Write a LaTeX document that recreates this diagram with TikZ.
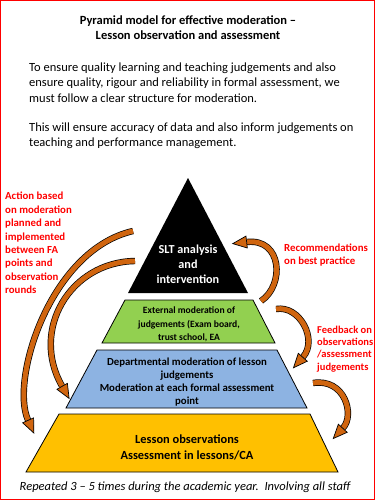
\documentclass[tikz,border=0pt]{standalone}
\usepackage{fontspec}
\setmainfont{Carlito}
\usetikzlibrary{shapes.geometric}
\definecolor{arroworange}{HTML}{D0650F}
\definecolor{tiergreen}{HTML}{92D050}
\definecolor{tierblue}{HTML}{8DB3E2}
\definecolor{tieryellow}{HTML}{FFC000}
\definecolor{notered}{HTML}{FF0000}

\tikzset{
    tier/.style={draw=black, line width=0.8pt, line join=miter},
    tierlabel/.style={align=center, inner sep=0pt},
    note/.style={align=left, anchor=west, inner sep=0pt, text=notered,
        font=\fontsize{10.8}{13.4}\selectfont\bfseries},
    bentarrow/.style={line width=0.7pt, double=arroworange, double distance=5pt},
    arrowhead/.style={pos=1, sloped, allow upside down, isosceles triangle,
        isosceles triangle stretches, minimum width=12pt, minimum height=14pt,
        inner sep=0pt, anchor=lower side, draw=black, fill=arroworange,
        line width=0.7pt, line join=miter},
}

\begin{document}
\begin{tikzpicture}[x=1pt, y=-1pt]
        \def\midx{187}

        % frame
        \useasboundingbox (0, 0) rectangle (375, 500);
        \draw [notered, line width=1pt] (0.5, 0.5) rectangle (374.5, 499.5);

        % heading and intro
        \node [tierlabel, font=\fontsize{12.5}{15}\selectfont\bfseries] (title) at (188, 27.5)
            {Pyramid model for effective moderation --\\Lesson observation and assessment};
        \node [tierlabel, align=left, anchor=west, font=\fontsize{12.5}{15.5}\selectfont] (intro) at (29, 82.5)
            {To ensure quality learning and teaching judgements and also\\
             ensure quality, rigour and reliability in formal assessment, we\\
             must follow a clear structure for moderation.};
        \node [tierlabel, align=left, anchor=west, font=\fontsize{12.5}{15.5}\selectfont] (detail) at (29, 135.5)
            {This will ensure accuracy of data and also inform judgements on\\
             teaching and performance management.};

        % pyramid tiers
        \fill [black] (\midx+1, 178) -- (\midx+61, 293) -- (\midx-59, 293) -- cycle;
        \draw [tier, fill=tiergreen] (\midx-62, 300) -- (\midx+66, 300) -- (\midx+88, 343) -- (\midx-85, 343) -- cycle;
        \draw [tier, fill=tierblue] (\midx-90, 350) -- (\midx+90, 350) -- (\midx+120, 408) -- (\midx-121, 408) -- cycle;
        \draw [tier, fill=tieryellow] (\midx-128, 414) -- (\midx+123, 414) -- (\midx+151, 472) -- (\midx-161, 472) -- cycle;

        \node [tierlabel, text=white, font=\fontsize{12.2}{15}\selectfont\bfseries] (slt) at (188, 264)
            {SLT analysis\\and\\intervention};
        \node [tierlabel, font=\fontsize{9.6}{13.5}\selectfont\bfseries] (external) at (189, 324.5)
            {External moderation of\\judgements (Exam board,\\trust school, EA};
        \node [tierlabel, font=\fontsize{10.8}{13.3}\selectfont\bfseries] (departmental) at (187, 382)
            {Departmental moderation of lesson\\judgements\\Moderation at each formal assessment\\point};
        \node [tierlabel, font=\fontsize{12.4}{16}\selectfont\bfseries] (lessons) at (187, 447)
            {Lesson observations\\Assessment in lessons/CA};

        % side notes
        \node [note] (action) at (5, 243)
            {Action based\\on moderation\\planned and\\implemented\\between FA\\points and\\observation\\rounds};
        \node [note] (recommend) at (284, 255)
            {Recommendations\\on best practice};
        \node [note, font=\fontsize{10.5}{12.3}\selectfont\bfseries] (feedback) at (317, 349)
            {Feedback on\\observations\\/assessment\\judgements};

        \node [tierlabel, font=\fontsize{12.5}{14}\selectfont\itshape] (repeated) at (185, 487)
            {Repeated 3 -- 5 times during the academic year.\ \ Involving all staff};

        % curved arrows
        \coordinate (outertail) at (133, 231);
        \coordinate (outerhead) at (28, 420);
        \coordinate (innertail) at (135, 261);
        \coordinate (innerhead) at (62, 386);
        \coordinate (toptail) at (261, 301);
        \coordinate (tophead) at (247, 242);
        \coordinate (midtail) at (276, 309);
        \coordinate (midhead) at (303, 357);
        \coordinate (lowtail) at (313, 383);
        \coordinate (lowhead) at (343, 428);

        \draw [bentarrow] (outertail) .. controls (50, 250) and (10, 380) .. (outerhead) node [arrowhead] {};
        \draw [bentarrow] (innertail) .. controls (70, 262) and (30, 330) .. (innerhead) node [arrowhead] {};
        \draw [bentarrow] (toptail) .. controls (285, 285) and (282, 238) .. (tophead) node [arrowhead] {};
        \draw [bentarrow] (midtail) .. controls (300, 305) and (318, 340) .. (midhead) node [arrowhead] {};
        \draw [bentarrow] (lowtail) .. controls (345, 378) and (355, 415) .. (lowhead) node [arrowhead] {};
    \end{tikzpicture}
\end{document}
